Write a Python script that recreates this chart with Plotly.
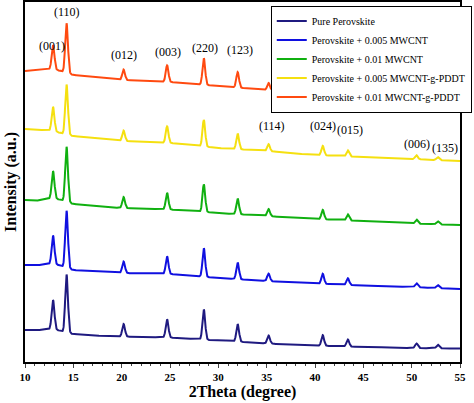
import numpy as np
import plotly.graph_objects as go

names = ["Pure Perovskite", "Perovskite + 0.005 MWCNT", "Perovskite + 0.01 MWCNT",
         "Perovskite + 0.005 MWCNT-g-PDDT", "Perovskite + 0.01 MWCNT-g-PDDT"]
colors = ["#1f1a80", "#1010e0", "#10b010", "#f5e010", "#ff4a10"]

# baseline control points (intensity, a.u.)
base_x = [10, 11, 12, 13, 14, 15, 17, 20, 25, 30, 35, 40, 45, 50, 55]
base_pure   = [320, 315, 325, 330, 300, 280, 265, 255, 245, 215, 185, 165, 150, 140, 135]
base_005    = [970, 965, 975, 985, 950, 920, 905, 890, 880, 840, 810, 785, 765, 750, 730]
base_01     = [1620, 1610, 1625, 1640, 1610, 1580, 1560, 1540, 1525, 1490, 1460, 1430, 1410, 1385, 1370]
base_005g   = [2330, 2320, 2320, 2310, 2280, 2260, 2240, 2210, 2190, 2140, 2110, 2070, 2050, 2030, 2010]
base_01g    = [2910, 2920, 2925, 2930, 2900, 2870, 2850, 2820, 2800, 2760, 2720, 2700, 2680, 2650, 2620]
baselines = [base_pure, base_005, base_01, base_005g, base_01g]

peak_pos = [12.9, 14.3, 20.2, 24.7, 28.5, 32.0, 35.2, 40.8, 43.4, 50.5, 52.7]
peak_pure = [290, 580, 125, 180, 300, 175, 80, 105, 70, 45, 35]
peak_005  = [280, 570, 115, 175, 285, 165, 75, 100, 65, 40, 30]
peak_01   = [270, 550, 110, 165, 275, 155, 70, 95, 60, 40, 30]
peak_005g = [240, 500, 105, 165, 265, 155, 70, 95, 60, 40, 30]
peak_01g  = [240, 495, 105, 165, 265, 155, 70, 95, 60, 40, 30]
peaks = [peak_pure, peak_005, peak_01, peak_005g, peak_01g]

hkl_labels = ["(001)", "(110)", "(012)", "(003)", "(220)", "(123)", "(114)", "(024)", "(015)", "(006)", "(135)"]
hkl_x = [12.8, 14.3, 20.2, 24.8, 28.6, 32.2, 35.6, 40.8, 43.6, 50.5, 53.4]
hkl_y = [3160, 3500, 3070, 3100, 3140, 3120, 2360, 2360, 2320, 2180, 2140]

x = np.arange(10, 55.001, 0.02)
fig = go.Figure()
for name, col, b, p in zip(names, colors, baselines, peaks):
    y = np.interp(x, base_x, b)
    for pos, h in zip(peak_pos, p):
        y = y + h * np.exp(-0.5 * ((x - pos) / 0.14) ** 2)
    fig.add_trace(go.Scatter(x=x, y=y, mode="lines", name=name, line=dict(color=col, width=2)))

for t, xx, yy in zip(hkl_labels, hkl_x, hkl_y):
    fig.add_annotation(x=xx, y=yy, text=t, showarrow=False, font=dict(size=12, color="black"))

fig.update_layout(
    width=474, height=403, margin=dict(l=25, r=8, t=2, b=41),
    paper_bgcolor="white", plot_bgcolor="white",
    font=dict(family="Liberation Serif", color="black"),
    legend=dict(x=0.565, y=0.99, xanchor="left", yanchor="top", bgcolor="white",
                bordercolor="black", borderwidth=1, font=dict(size=10), tracegroupgap=0,
                itemwidth=30),
    xaxis=dict(range=[10, 55], tickvals=list(range(10, 56, 5)), ticks="outside", ticklen=4,
               minor=dict(dtick=1, ticks="outside", ticklen=2), automargin=False,
               showline=True, linewidth=2, linecolor="black", mirror=True, showgrid=False,
               tickfont=dict(size=11, family="Liberation Serif", weight="bold"),
               title=dict(text="<b>2Theta (degree)</b>", font=dict(size=16), standoff=3)),
    yaxis=dict(range=[0, 3600], showticklabels=False, ticks="", showline=True, linewidth=2,
               linecolor="black", mirror=True, showgrid=False, zeroline=False, automargin=False,
               title=dict(text="<b>Intensity (a.u.)</b>", font=dict(size=16), standoff=2)),
)
fig.write_html("out.html", config={"displayModeBar": False})
with open("out.html") as f:
    html = f.read()
html = html.replace("<body>", '<body style="margin:0;padding:0;overflow:hidden">', 1)
with open("out.html", "w") as f:
    f.write(html)
